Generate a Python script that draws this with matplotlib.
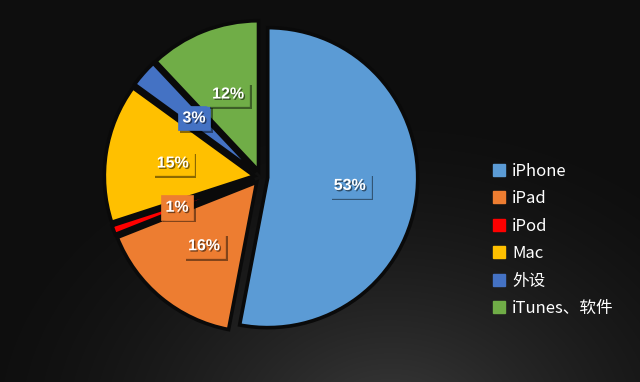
import numpy as np
import matplotlib
matplotlib.use("Agg")
import matplotlib.pyplot as plt
import matplotlib.patheffects as pe
from matplotlib.lines import Line2D

categories = ["iPhone", "iPad", "iPod", "Mac", "外设", "iTunes、软件"]
values = [53, 16, 1, 15, 3, 12]
colors = ["#5B9BD5", "#ED7D31", "#FF0000", "#FFC000", "#4472C4", "#70AD47"]
label_box_colors = ["#5B9BD5", "#ED7D31", "#ED7D31", "#FFC000", "#4472C4", "#70AD47"]

W, H = 640, 382
fig = plt.figure(figsize=(W / 100, H / 100), dpi=100)

# background radial gradient
bg = fig.add_axes([0, 0, 1, 1], zorder=0)
yy, xx = np.mgrid[0:H, 0:W]
d = np.sqrt(((xx - 390) / 430.0) ** 2 + ((yy - 430) / 330.0) ** 2)
t = np.clip(d, 0, 1)
v = 0.055 + (0.235 - 0.055) * (1 - t) ** 1.6
img = np.dstack([v, v, v])
bg.imshow(img, extent=[0, W, 0, H], origin="upper", aspect="auto")
bg.set_axis_off()

# pie axes
cx, cy, R = 261, 177, 150
half = 170
ax = fig.add_axes([(cx - half) / W, (H - cy - half) / H, 2 * half / W, 2 * half / H], zorder=1)
ax.set_axis_off()

wedges, texts = ax.pie(values, colors=colors, startangle=90, counterclock=False,
                       explode=[0.045] * len(values),
                       wedgeprops=dict(edgecolor="#0a0a0a", linewidth=2.6),
                       radius=1.0)
ax.set_aspect("auto")
ax.set_xlim(-half / R, half / R)
ax.set_ylim(-half / R, half / R)

total = sum(values)
cum = 0
for w, val, col in zip(wedges, values, label_box_colors):
    mid = 90 - (cum + val / 2) / total * 360
    cum += val
    r = 0.045 + 0.55
    x = r * np.cos(np.radians(mid))
    y = r * np.sin(np.radians(mid))
    t = ax.text(x, y, f"{val}%", ha="center", va="center", color="white",
                fontsize=11.5, fontweight="bold", family=["Liberation Sans", "DejaVu Sans"],
                bbox=dict(boxstyle="square,pad=0.3", facecolor=col, edgecolor=col, linewidth=0.5),
                zorder=5)
    t.set_path_effects([pe.withSimplePatchShadow(offset=(1, -1), shadow_rgbFace="black", alpha=0.5)])
    t.get_bbox_patch().set_path_effects([pe.withSimplePatchShadow(offset=(2, -2), shadow_rgbFace="black", alpha=0.45)])

handles = [Line2D([0], [0], marker="s", linestyle="none", markersize=8,
                  markerfacecolor=c, markeredgecolor=c) for c in colors]
leg = fig.legend(handles, categories, loc="center left", bbox_to_anchor=(477 / W, 1 - 240 / H),
                 frameon=False, handlelength=0.8, handletextpad=0.4, labelspacing=0.63,
                 prop=dict(family=["Noto Sans CJK SC", "DejaVu Sans"], size=12),
                 labelcolor="white")

fig.savefig("out.png", dpi=100)
